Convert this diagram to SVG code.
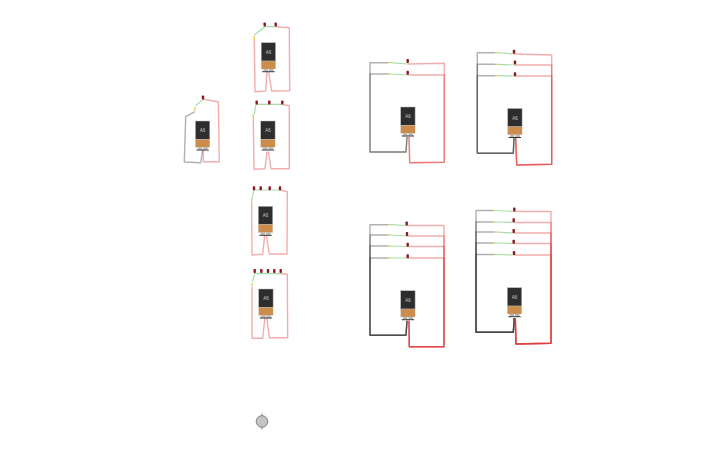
<svg xmlns="http://www.w3.org/2000/svg" xmlns:xlink="http://www.w3.org/1999/xlink" width="725" height="453" viewBox="0 0 725 453">
<style>
.r{fill:none;stroke:#dc2a2a;stroke-width:1.4;stroke-opacity:.38;stroke-linejoin:round}
.k{fill:none;stroke:#333;stroke-width:1.4;stroke-opacity:.38;stroke-linejoin:round}
.g{fill:none;stroke:#7ccb7c;stroke-width:1.2;stroke-opacity:.65}
.y{fill:none;stroke:#e8cc50;stroke-width:1.3}
.led{fill:#8e1620}
.t{font:4.5px "Liberation Sans",Arial,sans-serif;fill:#c8c8c8;text-anchor:middle}
</style>
<defs>
<g id="bat">
<rect x="0" y="0" width="14.4" height="18.3" fill="#2d2d2d" stroke="#bbb" stroke-width=".5"/>
<rect x="0" y="18.3" width="14.4" height="8" fill="#cc8c4c" stroke="#ccc" stroke-width=".3"/>
<rect x="2.3" y="26.3" width="4.4" height="2.2" fill="#b5b5b5"/>
<rect x="7.8" y="26.3" width="4.4" height="2.2" fill="#b5b5b5"/>
<rect x="1" y="28.5" width="12.4" height="1" fill="#333"/>
<text class="t" x="7.2" y="11.2">A6</text>
</g>
<rect id="l" class="led" x="-1.2" y="-2" width="2.4" height="4" rx=".8"/>
</defs>
<g id="connectors">
<!-- circuit 1 -->
<path class="k" d="M202.7 150L200.7 162.7L184.3 162L185.7 116.7L195 111.7"/>
<path class="y" d="M195 111V107"/>
<path class="g" d="M195.7 105.7L203.3 99.3"/>
<path class="r" d="M203.3 150V161.7H219.3L218.3 101.7L203.3 99.3"/>
<!-- circuit 2 -->
<path class="r" d="M267 72L265.7 91L255 91.7L254.3 40"/>
<path class="y" d="M254.3 40V36"/>
<path class="g" d="M254.3 35L264.7 26.7H275.7"/>
<path class="r" d="M275.7 26.7L289.3 27.7L289.7 90.7L271.7 91L268.7 72"/>
<!-- circuit 3 -->
<path class="r" d="M267 151.7L265 168.7L254 169.3L253.3 120"/>
<path class="y" d="M253.3 120V114"/>
<path class="g" d="M254.3 114L256 104.3H282.3"/>
<path class="r" d="M282.3 104.5L289.3 105.7V168.7H271L268.3 151.7"/>
<!-- circuit 4 -->
<path class="r" d="M264.7 235L262.7 254.3L252 255L251.7 204"/>
<path class="y" d="M251.7 204V201"/>
<path class="g" d="M251.7 201L253.7 190H280"/>
<path class="r" d="M280 190L287.3 191.7L287 254H269.3L266.3 235"/>
<!-- circuit 5 -->
<path class="r" d="M265 316.7L262.7 338.3H252V286.7"/>
<path class="y" d="M252 286V283"/>
<path class="g" d="M252.3 282L254.7 273.7H280.7"/>
<path class="r" d="M280.7 273.7L287.3 274.3L287.7 337.7H269.3L266.7 316.7"/>
<!-- circuit 6 -->
<path class="k" d="M407 137L406 152H370V62.7H388.3"/>
<path class="k" d="M407 137L406 152H370V74H388.3"/>
<path class="y" d="M388.3 62.7H390.3M388.3 74H390.3"/>
<path class="g" d="M390.3 62.7L407.7 64M390.3 74L407.7 75"/>
<path class="r" d="M407.7 64L444.3 63.3V162.3L409.7 162.7L409 137"/>
<path class="r" d="M407.7 75H444.3V162.3L409.7 162.7L409 137"/>
<!-- circuit 7 -->
<path class="k" d="M514 138L513.3 153.3H477.3V52.7H495"/>
<path class="k" d="M514 138L513.3 153.3H477.3V64.3H495"/>
<path class="k" d="M514 138L513.3 153.3H477.3V75.7H495"/>
<path class="y" d="M495 52.7H497M495 64.3H497M495 75.7H497"/>
<path class="g" d="M497 52.7L514 54M497 64.3L515 65M497 75.7L515 76"/>
<path class="r" d="M514 54L551.7 55V164.3L516.7 165L515.7 138"/>
<path class="r" d="M515 65H551.7V164.3L516.7 165L515.7 138"/>
<path class="r" d="M515 76H551.7V164.3L516.7 165L515.7 138"/>
<!-- circuit 8 -->
<path class="k" d="M407 320.7L406 335.3H370V224.7H388.3"/>
<path class="k" d="M407 320.7L406 335.3H370V235H388.3"/>
<path class="k" d="M407 320.7L406 335.3H370V246H388.3"/>
<path class="k" d="M407 320.7L406 335.3H370V258H388.3"/>
<path class="y" d="M388.3 224.7H390.3M388.3 235H390.3M388.3 246H390.3M388.3 258H390.3"/>
<path class="g" d="M390.3 224.7L406.7 225.5M390.3 235L407 236M390.3 246L407.7 246.5M390.3 258L407.7 258"/>
<path class="r" d="M406.7 225.5H444V346.7H409.3L409 320.7"/>
<path class="r" d="M407 236H444V346.7H409.3L409 320.7"/>
<path class="r" d="M407.7 246.5H444V346.7H409.3L409 320.7"/>
<path class="r" d="M407.7 258H444V346.7H409.3L409 320.7"/>
<!-- circuit 9 -->
<path class="k" d="M514.3 318L513.3 332.3H476V210.5H493.5"/>
<path class="k" d="M514.3 318L513.3 332.3H476V222H493.5"/>
<path class="k" d="M514.3 318L513.3 332.3H476V232H494.5"/>
<path class="k" d="M514.3 318L513.3 332.3H476V243H493.5"/>
<path class="k" d="M514.3 318L513.3 332.3H476V254.5H494.5"/>
<path class="y" d="M493.5 210.5H495.5M493.5 222H495.5M494.5 232H496.5M493.5 243H495.5M494.5 254.5H496.5"/>
<path class="g" d="M495.5 210.5L514.3 211.5M495.5 222L513.7 222.5M496.5 232L513.7 233M495.5 243L513.7 243.5M496.5 254.5L514 255"/>
<path class="r" d="M514.3 211.5H551V343.3L516 344L515.3 318"/>
<path class="r" d="M513.7 222.5H551V343.3L516 344L515.3 318"/>
<path class="r" d="M513.7 233H551V343.3L516 344L515.3 318"/>
<path class="r" d="M513.7 243.5H551V343.3L516 344L515.3 318"/>
<path class="r" d="M514 255H551V343.3L516 344L515.3 318"/>
</g>
<g id="circuit1"><use href="#bat" x="195.4" y="121"/><use href="#l" x="203" y="97.5"/></g>
<g id="circuit2"><use href="#bat" x="261.2" y="42.7"/><use href="#l" x="264.7" y="24.5"/><use href="#l" x="275.7" y="24.5"/></g>
<g id="circuit3"><use href="#bat" x="260.7" y="121"/><use href="#l" x="256.7" y="102.5"/><use href="#l" x="269.3" y="102.5"/><use href="#l" x="282.3" y="102.5"/></g>
<g id="circuit4"><use href="#bat" x="258.3" y="206.3"/><use href="#l" x="254" y="188.3"/><use href="#l" x="260.7" y="188.3"/><use href="#l" x="269.7" y="188.3"/><use href="#l" x="280" y="188.3"/></g>
<g id="circuit5"><use href="#bat" x="258.7" y="289"/><use href="#l" x="254.7" y="271"/><use href="#l" x="261.3" y="271"/><use href="#l" x="268" y="271"/><use href="#l" x="274.3" y="271"/><use href="#l" x="280.7" y="271"/></g>
<g id="circuit6"><use href="#bat" x="400.7" y="107"/><use href="#l" x="407.7" y="61"/><use href="#l" x="407.7" y="72.7"/></g>
<g id="circuit7"><use href="#bat" x="507.7" y="108.5"/><use href="#l" x="514" y="51.7"/><use href="#l" x="515" y="62.5"/><use href="#l" x="515" y="74.3"/></g>
<g id="circuit8"><use href="#bat" x="400.7" y="290.7"/><use href="#l" x="406.7" y="223.5"/><use href="#l" x="407" y="234"/><use href="#l" x="407.7" y="244.7"/><use href="#l" x="407.7" y="256.3"/></g>
<g id="circuit9"><use href="#bat" x="507.3" y="287.7"/><use href="#l" x="514.3" y="209.5"/><use href="#l" x="513.7" y="220.3"/><use href="#l" x="513.7" y="231"/><use href="#l" x="513.7" y="241.7"/><use href="#l" x="514" y="253"/></g>
<g id="indicator">
<path d="M262 413.5V416" stroke="#c77" stroke-width="1"/>
<path d="M262 427V429.5" stroke="#888" stroke-width="1"/>
<circle cx="262" cy="421.5" r="5.8" fill="#c4c4c4" stroke="#666" stroke-width=".8"/>
</g>
</svg>
